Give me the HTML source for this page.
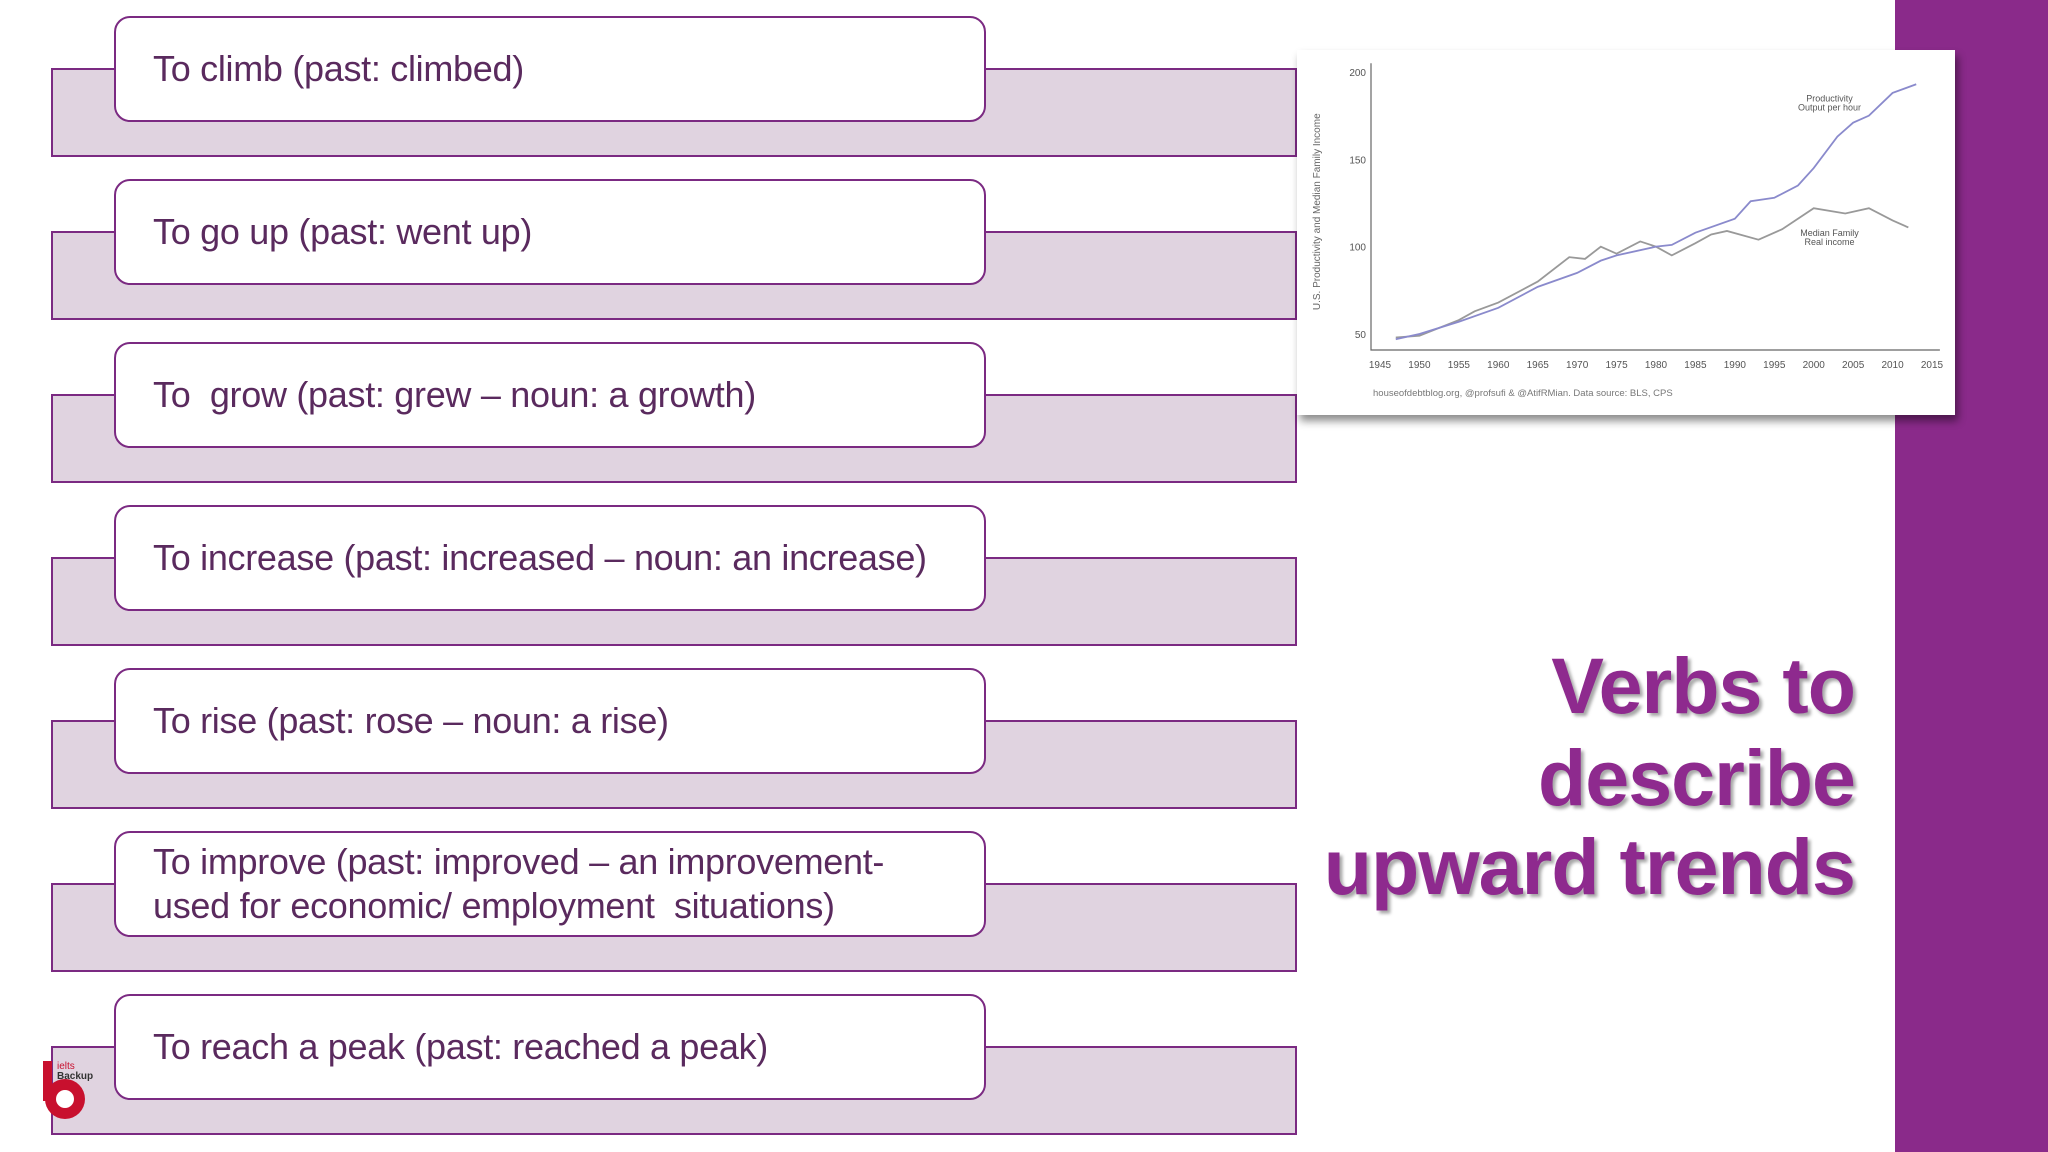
<!DOCTYPE html>
<html><head><meta charset="utf-8"><style>
body{margin:0;width:2048px;height:1152px;position:relative;background:#fff;overflow:hidden;font-family:"Liberation Sans",sans-serif}
.back{position:absolute;left:51px;width:1246px;height:89px;background:#e0d3e0;border:2px solid #7b2a82;box-sizing:border-box}
.front{position:absolute;left:114px;width:872px;height:106px;background:#fff;border:2.5px solid #7b2a82;border-radius:16px;box-sizing:border-box;display:flex;align-items:center;padding-left:37px;color:#5a2a5e;font-size:36px;line-height:44px;letter-spacing:-0.3px}
#side{position:absolute;left:1895px;top:0;width:153px;height:1152px;background:#8a2a8a}
.title{position:absolute;right:193px;font-weight:bold;font-size:79px;color:#8e2a8e;text-shadow:3px 3px 3px rgba(0,0,0,.35);text-align:right;white-space:nowrap;letter-spacing:-1px}
</style></head><body>
<div id="side"></div>
<div id="rows"></div>
<div class="title" style="top:640px">Verbs to</div>
<div class="title" style="top:732px">describe</div>
<div class="title" style="top:821px">upward trends</div>
<div style="position:absolute;left:1297px;top:50px;width:658px;height:365px;background:#fff;box-shadow:3px 6px 8px rgba(0,0,0,.45)">
<svg id="chart" width="658" height="365" style="position:absolute;left:0;top:0"></svg>
</div>
<div style="position:absolute;left:37px;top:1055px;width:74px;height:68px">
<svg width="74" height="68"><circle cx="28" cy="44" r="20" fill="#c8102e"/><circle cx="28" cy="44" r="9" fill="#fff"/><rect x="6" y="6" width="9" height="40" fill="#c8102e"/><text x="20" y="14" font-size="10" fill="#c8102e" font-family="Liberation Sans">ielts</text><text x="20" y="24" font-size="10" font-weight="bold" fill="#333" font-family="Liberation Sans">Backup</text></svg>
</div>
<script>
const items=["To climb (past: climbed)","To go up (past: went up)","To&nbsp; grow (past: grew – noun: a growth)","To increase (past: increased – noun: an increase)","To rise (past: rose – noun: a rise)","To improve (past: improved – an improvement-<br>used for economic/ employment&nbsp; situations)","To reach a peak (past: reached a peak)"];
const rows=document.getElementById('rows');
items.forEach((t,i)=>{
 const b=document.createElement('div');b.className='back';b.style.top=(68+163*i)+'px';
 
 
 rows.appendChild(b);
 const f=document.createElement('div');f.className='front';f.style.top=(16+163*i)+'px';f.innerHTML='<span>'+t+'</span>';
 
 
 rows.appendChild(f);
});
const prodYears=[1947,1950,1955,1960,1965,1970,1973,1975,1980,1982,1985,1990,1992,1995,1998,2000,2003,2005,2007,2010,2013];
const prodVals=[47,50,57,65,77,85,92,95,100,101,108,116,126,128,135,145,163,171,175,188,193];
const incYears=[1947,1950,1955,1957,1960,1965,1969,1971,1973,1975,1978,1980,1982,1985,1987,1989,1993,1996,2000,2004,2007,2010,2012];
const incVals=[48,49,58,63,68,80,94,93,100,96,103,100,95,102,107,109,104,110,122,119,122,115,111];
const xTicks=[1945,1950,1955,1960,1965,1970,1975,1980,1985,1990,1995,2000,2005,2010,2015];
const yTicks=[50,100,150,200];
const ox=1297,oy=50;
const X=y=>1380-ox+(y-1945)*552/70;
const Y=v=>334-oy-(v-50)*262/150;
const s=document.getElementById('chart');const NS='http://www.w3.org/2000/svg';
function el(tag,a,txt){const e=document.createElementNS(NS,tag);for(const k in a)e.setAttribute(k,a[k]);if(txt)e.textContent=txt;s.appendChild(e);return e;}
const ax=el('path',{d:`M${1371-ox} ${Y(205)}V${350-oy}H${X(2016)}`,stroke:'#666',fill:'none','stroke-width':1.2});


yTicks.forEach(v=>{const t=el('text',{x:1366-ox,y:Y(v)+4,'font-size':10,fill:'#555','text-anchor':'end'},String(v));
 
 });
xTicks.forEach(v=>{const t=el('text',{x:X(v),y:368-oy,'font-size':10,fill:'#555','text-anchor':'middle'},String(v));
 
 });
const inc=el('polyline',{points:incYears.map((y,i)=>X(y)+','+Y(incVals[i])).join(' '),fill:'none',stroke:'#999','stroke-width':1.8});


const pr=el('polyline',{points:prodYears.map((y,i)=>X(y)+','+Y(prodVals[i])).join(' '),fill:'none',stroke:'#8a8acc','stroke-width':1.8});


const yl=el('text',{transform:`translate(${1320-ox},${Y(120)}) rotate(-90)`,'font-size':10,fill:'#666','text-anchor':'middle'},'U.S. Productivity and Median Family Income');


const l1=el('text',{x:X(2002),y:Y(183),'font-size':9,fill:'#555','text-anchor':'middle'},'Productivity');


const l2=el('text',{x:X(2002),y:Y(178),'font-size':9,fill:'#555','text-anchor':'middle'},'Output per hour');


const l3=el('text',{x:X(2002),y:Y(106),'font-size':9,fill:'#555','text-anchor':'middle'},'Median Family');


const l4=el('text',{x:X(2002),y:Y(101),'font-size':9,fill:'#555','text-anchor':'middle'},'Real income');


const src=el('text',{x:1373-ox,y:396-oy,'font-size':9.5,fill:'#777'},'houseofdebtblog.org, @profsufi & @AtifRMian. Data source: BLS, CPS');


</script>
</body></html>
